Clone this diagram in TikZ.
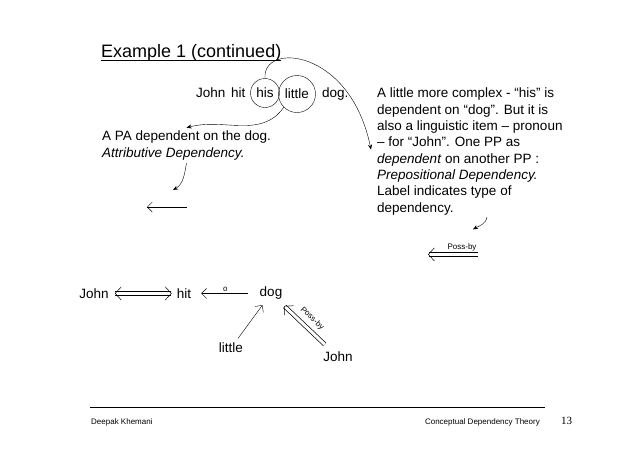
\documentclass[tikz,border=0pt]{standalone}
\usepackage{fontspec}
\setmainfont{Liberation Sans}
\newfontfamily\numfont{Liberation Serif}
\usetikzlibrary{arrows.meta,positioning}

\begin{document}
\begin{tikzpicture}[x=1pt,y=1pt,
    word/.style={inner sep=2pt, font=\fontsize{13.5}{16}\selectfont},
    note/.style={align=left, inner sep=0pt, font=\fontsize{13.5}{16.3}\selectfont},
    tiny/.style={inner sep=1pt, font=\fontsize{8}{9}\selectfont},
    cdarrow/.style={-{Straight Barb[length=5pt,width=10pt]}},
    curly/.style={-{Stealth[length=5pt,width=4pt]}},
    twoway/.style={double, double distance=3pt, line width=0.7pt, {Straight Barb[length=6pt,width=13pt,line width=0.5pt]}-{Straight Barb[length=6pt,width=13pt,line width=0.5pt]}},
    oneback/.style={double, double distance=3pt, line width=0.7pt, {Straight Barb[length=6pt,width=13pt,line width=0.5pt]}-}]
    \useasboundingbox (0,0) rectangle (638,-451);
    % title
    \node[anchor=base west, inner sep=0pt, font=\fontsize{18}{20}\selectfont] (title) at (101,-57) {Example 1 (continued)};
    \draw ([yshift=-3pt]title.base west) -- ([yshift=-3pt]title.base east);
    % the sentence
    \node[word, anchor=base west] (s-john) at (194,-97) {John};
    \node[word, anchor=base west] (s-hit) at (229,-97) {hit};
    \node[word, draw, circle, minimum size=29pt, inner sep=0pt] (s-his) at (265,-93) {his};
    \node[word, draw, circle, minimum size=37pt, inner sep=0pt] (s-little) at (297,-94) {little};
    \node[word, anchor=base west] (s-dog) at (320,-97) {dog.};
    % notes
    \node[note, anchor=base west] (pa) at (102,-157) {A PA dependent on the dog.\\ \textit{Attributive Dependency.}};
    \node[note, anchor=north west] (complex) at (377,-88) {A little more complex - “his” is\\
      dependent on “dog”. But it is\\
      also a linguistic item – pronoun\\
      – for “John”. One PP as\\
      \textit{dependent} on another PP :\\
      \textit{Prepositional Dependency.}\\
      Label indicates type of\\
      dependency.};
    \draw[curly] (s-his.north) .. controls (262,-42) and (350,-48) .. ([xshift=-6pt,yshift=2pt]complex.west);
    \draw[curly] (s-little.225) to[out=235,in=15] ([yshift=3pt]pa.north);
    % small arrows
    \coordinate (pa-r) at (187,-207);
    \coordinate (pa-l) at (147,-207);
    \draw[cdarrow] (pa-r) -- (pa-l);
    \draw[curly] ([yshift=-3pt]pa.south) to[out=-100,in=30] ([xshift=-14pt,yshift=17pt]pa-r);
    \coordinate (pb-r) at (478,-254.4);
    \coordinate (pb-l) at (428,-254.4);
    \draw[oneback] (pb-l) -- node[tiny, above=2pt, xshift=9pt] {Poss-by} (pb-r);
    \draw[curly] ([xshift=110pt,yshift=-2pt]complex.south west) to[out=-100,in=30] ([xshift=-5pt,yshift=25pt]pb-r);
    % the graph
    \node[word] (john) at (94,-293.4) {John};
    \node[word] (hit) at (184,-293.4) {hit};
    \node[word] (dog) at (271,-293.4) {dog};
    \node[word] (little) at (231,-348) {little};
    \node[word] (john2) at (338,-357) {John};
    \draw[twoway, shorten <=4pt, shorten >=3pt] (john) -- (hit);
    \draw[cdarrow, shorten <=10pt, shorten >=8pt] (dog) -- node[tiny, above=1pt] {o} (hit);
    \draw[cdarrow, shorten <=3pt, shorten >=4pt] (little) -- (dog);
    \draw[oneback, shorten <=6pt, shorten >=8pt] (dog) -- node[tiny, sloped, above=5pt] {Poss-by} (john2);
    % footer
    \coordinate (foot-l) at (90,-407);
    \coordinate (foot-r) at (545,-407);
    \draw[line width=0.6pt] (foot-l) -- (foot-r);
    \node[tiny, anchor=base west] (author) at (90,-424) {Deepak Khemani};
    \node[tiny, anchor=base east] (topic) at (541,-424) {Conceptual Dependency Theory};
    \node[inner sep=0pt, anchor=base west, font=\numfont\fontsize{11}{12}\selectfont] (page) at (561,-424) {13};
\end{tikzpicture}
\end{document}
